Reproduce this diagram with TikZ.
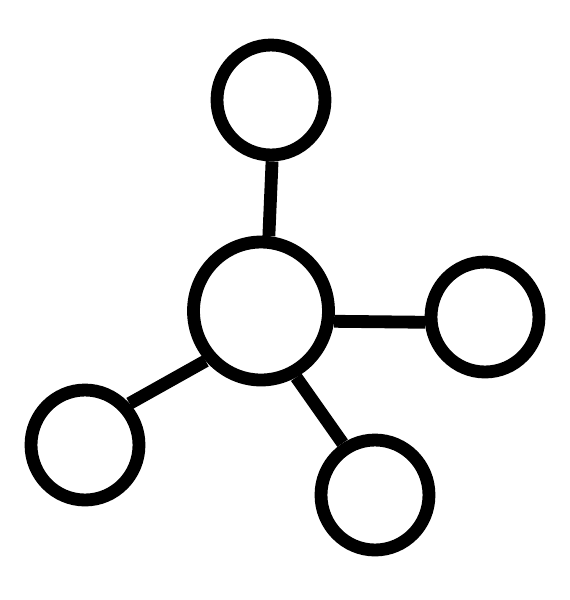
\documentclass[tikz,border=0pt]{standalone}
\usetikzlibrary{shapes.geometric}
\begin{document}
\begin{tikzpicture}[x=0.02cm, y=-0.02cm, line width=7.3pt,
        pod/.style={draw, ellipse, inner sep=0pt, minimum width=2.16cm, minimum height=2.2cm},
        hubpod/.style={draw, ellipse, inner sep=0pt, minimum width=2.7cm, minimum height=2.76cm}]
        \useasboundingbox (0, 0) rectangle (570, 600);
        \node[hubpod] (hub) at (261, 311) {};
        \node[pod] (top) at (271, 100) {};
        \node[pod] (right) at (485, 317) {};
        \node[pod] (left) at (85, 445) {};
        \node[pod] (low) at (375, 495) {};
        \draw[] (hub.84) -- (top.271);
        \draw[] (hub.-8) -- (right.185);
        \draw[] (hub.222) -- (left.43);
        \draw[] (hub.-62) -- (low.122);
    \end{tikzpicture}
\end{document}
